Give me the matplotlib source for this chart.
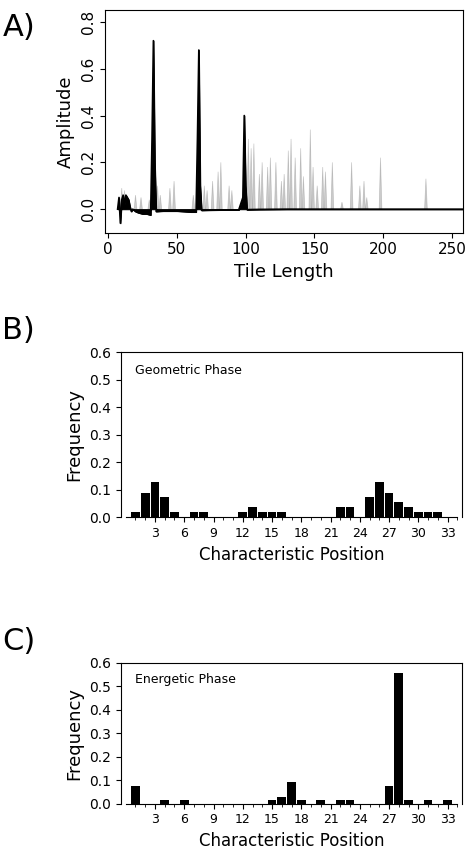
import matplotlib.pyplot as plt
import numpy as np

# Panel A: mean trace (black) and individual spikes (grey)
trace_x = [7, 8, 9, 10, 11, 12, 13, 14, 15, 16, 17, 18, 20, 22, 25, 28, 31, 32, 33, 34, 35, 40, 45, 50, 55, 60, 64, 65, 66, 67, 68, 75, 85, 95, 98, 99, 100, 101, 110, 130, 150, 260]
trace_y = [0.0, 0.05, -0.06, 0.04, 0.06, 0.02, 0.06, 0.05, 0.04, 0.01, -0.01, 0.0, -0.01, -0.015, -0.02, -0.02, -0.025, 0.3, 0.72, 0.2, -0.01, -0.008, -0.008, -0.008, -0.01, -0.012, -0.012, 0.3, 0.68, 0.1, -0.005, -0.004, -0.003, -0.003, 0.05, 0.4, 0.1, -0.002, -0.001, 0.0, 0.0, 0.0]
spike_x = [10, 12, 20, 24, 30, 36, 38, 45, 48, 62, 70, 72, 76, 80, 82, 88, 90, 102, 104, 106, 110, 112, 116, 118, 122, 126, 128, 131, 133, 136, 140, 142, 147, 149, 152, 156, 158, 163, 170, 177, 183, 186, 188, 198, 231]
spike_h = [0.09, 0.08, 0.06, 0.05, 0.04, 0.1, 0.06, 0.09, 0.12, 0.06, 0.1, 0.08, 0.12, 0.16, 0.2, 0.1, 0.08, 0.3, 0.26, 0.28, 0.15, 0.2, 0.18, 0.22, 0.2, 0.12, 0.15, 0.25, 0.3, 0.22, 0.26, 0.14, 0.34, 0.18, 0.1, 0.18, 0.16, 0.2, 0.03, 0.2, 0.1, 0.12, 0.05, 0.22, 0.13]

# Panels B and C: characteristic positions 1..33
positions = list(range(1, 34))
geometric = [0.018, 0.09, 0.128, 0.073, 0.018, 0, 0.018, 0.018, 0, 0, 0, 0.018, 0.036, 0.018, 0.018, 0.018,
             0, 0, 0, 0, 0, 0.036, 0.036, 0, 0.073, 0.128, 0.09, 0.055, 0.036, 0.018, 0.018, 0.018, 0]
energetic = [0.077, 0, 0, 0.015, 0, 0.015, 0, 0, 0, 0, 0, 0, 0, 0, 0.015, 0.03, 0.093, 0.015, 0, 0.015,
             0, 0.015, 0.015, 0, 0, 0, 0.077, 0.555, 0.015, 0, 0.015, 0, 0.015]

fig = plt.figure(figsize=(4.74, 8.55), dpi=100)

axA = fig.add_axes([0.222, 0.728, 0.755, 0.26])
for x, h in zip(spike_x, spike_h):
    axA.fill([x - 1, x, x + 1], [0, h, 0], color='0.6', alpha=0.5, lw=0.5)
axA.fill_between(trace_x, trace_y, 0, color='black', lw=0.8)
axA.plot(trace_x, trace_y, color='black', lw=1.2)
axA.set_xlim(-2, 258)
axA.set_ylim(-0.1, 0.85)
axA.set_yticks([0, 0.2, 0.4, 0.6, 0.8])
axA.set_yticklabels(['0.0', '0.2', '0.4', '0.6', '0.8'], rotation=90, va='center')
axA.set_xticks([0, 50, 100, 150, 200, 250])
axA.set_xlabel('Tile Length', fontsize=13)
axA.set_ylabel('Amplitude', fontsize=13)
axA.tick_params(labelsize=11)
fig.text(0.005, 0.958, 'A)', fontsize=22)

for vals, rect, label, letter, ly in [(geometric, [0.255, 0.395, 0.72, 0.193], 'Geometric Phase', 'B)', 0.603),
                                      (energetic, [0.255, 0.06, 0.72, 0.165], 'Energetic Phase', 'C)', 0.24)]:
    ax = fig.add_axes(rect)
    ax.bar(positions, vals, width=0.9, color='black')
    ax.set_xlim(-0.5, 34.5)
    ax.set_ylim(0, 0.6)
    ax.set_yticks([0, 0.1, 0.2, 0.3, 0.4, 0.5, 0.6])
    ax.set_xticks(range(3, 34, 3))
    ax.set_xticks(range(1, 35), minor=True)
    ax.tick_params(labelsize=10)
    ax.tick_params(axis='x', labelsize=9)
    ax.spines['bottom'].set_bounds(0, 34)
    ax.set_xlabel('Characteristic Position', fontsize=12)
    ax.set_ylabel('Frequency', fontsize=13)
    ax.text(0.04, 0.93, label, transform=ax.transAxes, fontsize=9, va='top')
    fig.text(0.005, ly, letter, fontsize=22)

fig.savefig('out.png', dpi=100)
